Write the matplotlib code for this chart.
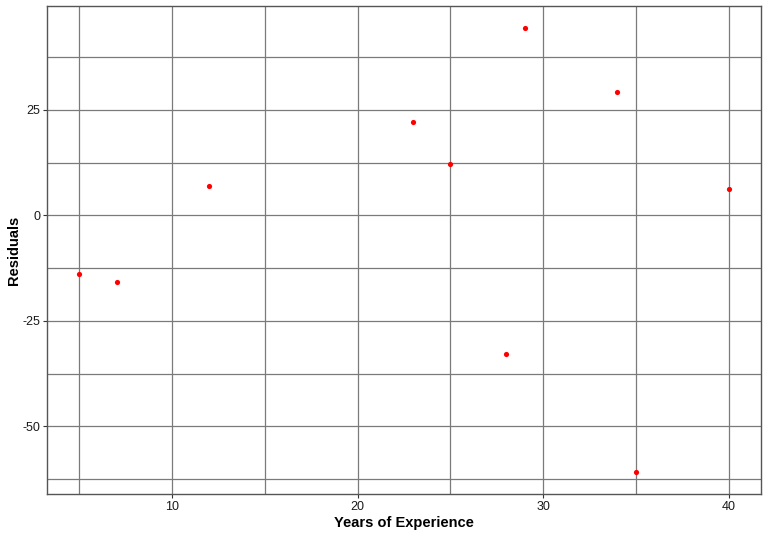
import matplotlib
matplotlib.use("Agg")
import matplotlib.pyplot as plt
from matplotlib.ticker import MultipleLocator

years = [5, 7, 12, 23, 25, 28, 29, 34, 35, 40]
residuals = [-14.0, -15.9, 6.9, 22.1, 12.3, -32.8, 44.4, 29.2, -60.8, 6.2]

plt.rcParams['font.family'] = ['Liberation Sans', 'DejaVu Sans']
plt.rcParams['axes.unicode_minus'] = False

fig = plt.figure(figsize=(7.68, 5.37), dpi=100)
ax = fig.add_axes([47/768, 43/537, 714/768, 488/537])

ax.scatter(years, residuals, s=14, color='#ff0000', zorder=3, linewidths=0)

ax.set_xlim(3.25, 41.75)
ax.set_ylim(-66.06, 49.66)
ax.xaxis.set_major_locator(MultipleLocator(10))
ax.xaxis.set_minor_locator(MultipleLocator(5))
ax.yaxis.set_major_locator(MultipleLocator(25))
ax.yaxis.set_minor_locator(MultipleLocator(12.5))

ax.grid(which='major', color='#7a7a7a', linewidth=0.9)
ax.grid(which='minor', color='#7a7a7a', linewidth=0.9)
ax.set_axisbelow(True)
for s in ax.spines.values():
    s.set_color('#555555')
    s.set_linewidth(1.0)

ax.tick_params(which='major', length=3, color='#333333', labelsize=9, labelcolor='#1a1a1a', pad=2)
ax.tick_params(which='minor', length=0)

ax.set_xlabel('Years of Experience', fontsize=10.5, fontweight='bold')
ax.set_ylabel('Residuals', fontsize=10.5, fontweight='bold')
ax.yaxis.set_label_coords(-47/714 + 14/714, 0.5)
ax.xaxis.set_label_coords(0.5, -29/488)
ax.xaxis.label.set_verticalalignment('center')
ax.yaxis.label.set_verticalalignment('center')

fig.savefig('out.png', dpi=100, facecolor='white')
